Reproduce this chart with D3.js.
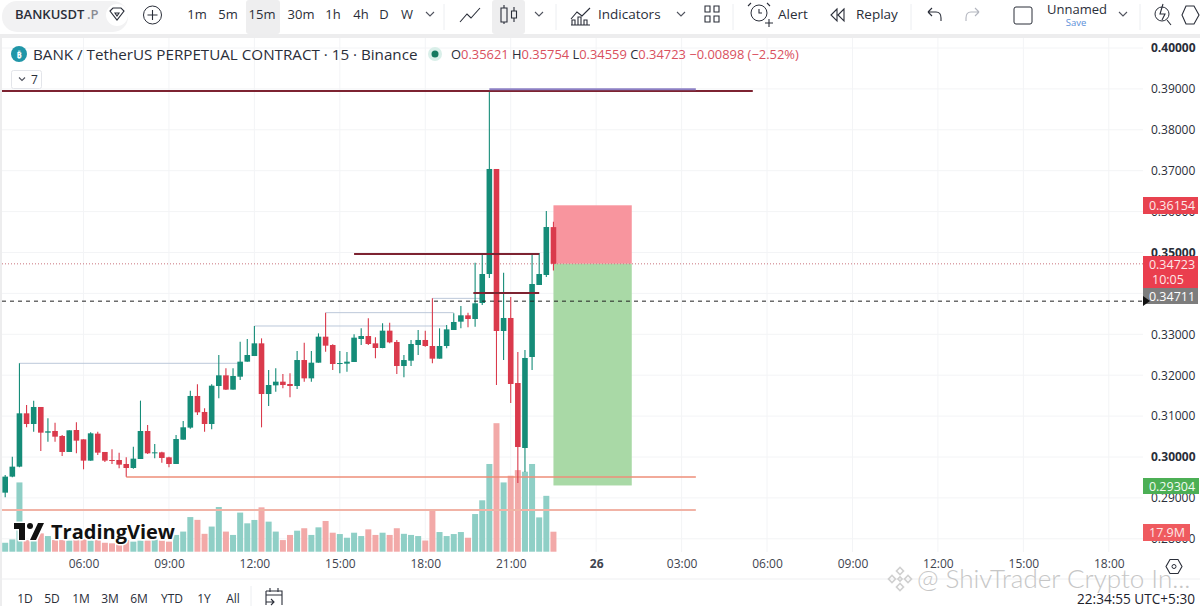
<!DOCTYPE html>
<html>
<head>
<meta charset="utf-8">
<style>
    html, body { margin: 0; padding: 0; background: #fff; }
    svg { display: block; }
    text { font-family: "Open Sans", "Noto Sans", sans-serif; fill: #2a2e39; }
</style>
<script src="https://cdn.jsdelivr.net/npm/d3@7"></script>
</head>
<body>
<div id="chart"></div>
<script>
const WIDTH  = 1200
const HEIGHT = 606

// one candle every 15 minutes, first one at 03:15 on the 25th
const opens = [
    .29128, .29520, .29764, .31068, .30807, .31223, .30595, .30636, .30514, .30123,
    .30660, .30432, .29911, .30571, .30123, .29927, .29927, .29829, .29731, .29951,
    .30636, .30098, .30114, .29992, .29829, .30424, .30718, .31492, .31101, .30807,
    .31736, .31997, .31647, .31964, .32331, .32469, .32779, .31540, .31752, .31842,
    .31785, .31736, .32371, .31923, .32306, .32942, .32738, .32282, .32282, .32323,
    .32885, .32958, .32779, .32665, .33089, .32812, .32225, .32355, .32738, .32861,
    .32714, .32404, .32714, .33105, .33309, .33464, .33374, .33765, .34474, .37042,
    .33081, .33399, .31809, .30220, .32445, .34206, .34450, .35621
]
const highs = [
    .29560, .30008, .32291, .31272, .31378, .31223, .30946, .30840, .30538, .30652,
    .30848, .30432, .30603, .30620, .30123, .30188, .30106, .29992, .30253, .31378,
    .30783, .30318, .30131, .30008, .30538, .30881, .31622, .31777, .31190, .31777,
    .32494, .32168, .32168, .32820, .32885, .33203, .32901, .32127, .32168, .32029,
    .32045, .32592, .32795, .32592, .33023, .33529, .32755, .32592, .32567, .32999,
    .33146, .33390, .32926, .33268, .33284, .32861, .32494, .32861, .33105, .33089,
    .33879, .33146, .33227, .33513, .33692, .33529, .34751, .34939, .38973, .37042,
    .34506, .33912, .32567, .32616, .34988, .34988, .36015, .35754
]
const lows = [
    .29014, .29503, .29750, .30726, .30620, .30147, .30375, .30375, .30025, .30123,
    .30090, .29699, .29911, .30049, .29878, .29829, .29723, .29520, .29715, .29951,
    .30074, .29968, .29862, .29748, .29829, .30424, .30693, .31027, .30620, .30677,
    .31435, .31639, .31647, .31883, .32331, .32469, .30725, .31247, .31597, .31679,
    .31459, .31662, .31842, .31842, .32306, .32575, .32127, .32045, .32086, .32323,
    .32738, .32738, .32412, .32657, .32779, .32029, .31948, .32225, .32494, .32698,
    .32290, .32404, .32657, .33105, .33146, .33170, .33186, .33716, .34377, .31760,
    .32372, .31320, .29364, .29633, .32127, .34206, .34401, .34559
]
const closes = [
    .29520, .29764, .31068, .30807, .31223, .30595, .30628, .30497, .30123, .30652,
    .30400, .29911, .30579, .30106, .29911, .29903, .29813, .29731, .29960, .30636,
    .30090, .30114, .29976, .29829, .30440, .30726, .31492, .31092, .30807, .31744,
    .31997, .31647, .31981, .32331, .32494, .32779, .31540, .31760, .31842, .31760,
    .31736, .32371, .31923, .32306, .32942, .32722, .32274, .32298, .32331, .32918,
    .32958, .32763, .32665, .33089, .32803, .32225, .32371, .32763, .32861, .32714,
    .32404, .32714, .33121, .33301, .33464, .33374, .33757, .34474, .37042, .33081,
    .33399, .31785, .30244, .32421, .34230, .34474, .35623, .34723
]
// millions
const volumes = [
    8, 11, 62, 10.4, 10.4, 16.4, 14, 10.4, 10.4, 9.9,
    10.4, 11, 9.9, 10.4, 8, 7.5, 6.9, 10.4, 9, 9.9,
    9.9, 11, 9.9, 9, 15, 18, 31, 28.5, 16, 22.5,
    40, 18, 15, 35, 25.4, 28.4, 39.7, 26.9, 18, 10.4,
    15, 18.8, 21, 15, 21.8, 27.5, 17, 15.8, 12.5, 17,
    14, 20, 15, 17, 15, 21, 16, 15, 14, 10,
    38, 17.6, 14, 15.8, 17.6, 12.5, 33.7, 46, 78.5, 115,
    62, 68, 73, 71.6, 78.5, 30.7, 50, 17.9
]

const priceTicks = [.40, .39, .38, .37, .36, .35, .34, .33, .32, .31, .30, .29, .28]
const strongTicks = [.40, .35, .30]

// [price, first bar, last bar]
const priorHighs = [[.32291, 2, 33], [.33203, 35, 62], [.33529, 45, 63], [.33879, 60, 67]]
const darkLevels = [[.38949, -0.45, 105], [.34963, 49, 75], [.34010, 65.75, 75]]
const purpleLevels = [[.38990, 68, 97]]
const orangeLevels = [[.29511, 17, 97]]
const paleLevels = [[.28704, -0.45, 97]]

const shortBox = { stop: .36154, entry: .34723, target: .29304, fromBar: 77, toBar: 88 }
const lastPrice = .34723
const markLevel = .33810

const intervals = ['1m', '5m', '15m', '30m', '1h', '4h', 'D', 'W']
const ranges = ['1D', '5D', '1M', '3M', '6M', 'YTD', '1Y', 'All']

const GREEN       = '#158c78'
const RED         = '#da3a4c'
const GREEN_VOL   = '#8fcfc6'
const RED_VOL     = '#f2a9a8'
const GRID        = '#f3f4f6'

const BAR_MS = 15 * 60 * 1000
const T0     = Date.UTC(2025, 4, 25, 3, 15)
const barTime = i => new Date(T0 + i * BAR_MS)

const x = d3.scaleUtc()
    .domain([barTime(0), barTime(155)])
    .range([5.2, 1108.8])

const xBar = i => x(barTime(i))

const y = d3.scaleLinear()
    .domain([.28, .40])
    .range([538.8, 48])

// 17.9M is 20px tall in the picture
const yVol = d3.scaleLinear()
    .domain([0, 115])
    .range([551.7, 423.2])

const timeTicks = d3.range(0, 13).map(i => new Date(Date.UTC(2025, 4, 25, 6 + i * 3)))

const svg = d3.select('#chart').append('svg')
    .attr('width', WIDTH)
    .attr('height', HEIGHT)

svg.append('rect')
    .attr('width', WIDTH)
    .attr('height', HEIGHT)
    .attr('fill', '#fff')

// ---- grid
const grid = svg.append('g')

grid.selectAll('line.h')
    .data(priceTicks)
    .join('line')
    .attr('x1', 2)
    .attr('x2', 1143)
    .attr('y1', d => y(d))
    .attr('y2', d => y(d))
    .attr('stroke', GRID)

grid.selectAll('line.v')
    .data(timeTicks)
    .join('line')
    .attr('class', 'v')
    .attr('x1', d => x(d))
    .attr('x2', d => x(d))
    .attr('y1', 38)
    .attr('y2', 552)
    .attr('stroke', GRID)

// ---- volume
const bars = d3.range(opens.length)

svg.append('g').selectAll('rect')
    .data(bars)
    .join('rect')
    .attr('x', i => xBar(i) - 3)
    .attr('width', 6)
    .attr('y', i => yVol(volumes[i]))
    .attr('height', i => yVol(0) - yVol(volumes[i]))
    .attr('fill', i => closes[i] >= opens[i] ? GREEN_VOL : RED_VOL)

// ---- short position box
const box = svg.append('g')

box.append('rect')
    .attr('x', xBar(shortBox.fromBar))
    .attr('width', xBar(shortBox.toBar) - xBar(shortBox.fromBar))
    .attr('y', y(shortBox.stop))
    .attr('height', y(shortBox.entry) - y(shortBox.stop))
    .attr('fill', '#f8959e')

box.append('rect')
    .attr('x', xBar(shortBox.fromBar))
    .attr('width', xBar(shortBox.toBar) - xBar(shortBox.fromBar))
    .attr('y', y(shortBox.entry))
    .attr('height', y(shortBox.target) - y(shortBox.entry))
    .attr('fill', '#a9d9a6')

// ---- horizontal drawings
const drawLevels = (levels, color, width) => svg.append('g').selectAll('line')
    .data(levels)
    .join('line')
    .attr('x1', d => xBar(d[1]))
    .attr('x2', d => xBar(d[2]))
    .attr('y1', d => y(d[0]))
    .attr('y2', d => y(d[0]))
    .attr('stroke', color)
    .attr('stroke-width', width)

drawLevels(priorHighs, '#bcc8da', 1)
drawLevels(paleLevels, '#f1b3a6', 2)
drawLevels(orangeLevels, '#ee8e78', 1.5)

svg.append('line')
    .attr('x1', 2)
    .attr('x2', 1143)
    .attr('y1', y(lastPrice))
    .attr('y2', y(lastPrice))
    .attr('stroke', '#c9737c')
    .attr('stroke-dasharray', '1 2')

// ---- candles
const candles = svg.append('g')

candles.selectAll('line')
    .data(bars)
    .join('line')
    .attr('x1', i => xBar(i))
    .attr('x2', i => xBar(i))
    .attr('y1', i => y(highs[i]))
    .attr('y2', i => y(lows[i]))
    .attr('stroke', i => closes[i] >= opens[i] ? GREEN : RED)
    .attr('stroke-width', 1.1)

candles.selectAll('rect')
    .data(bars)
    .join('rect')
    .attr('x', i => xBar(i) - 2.8)
    .attr('width', 5.6)
    .attr('y', i => y(Math.max(opens[i], closes[i])))
    .attr('height', i => Math.max(1, Math.abs(y(opens[i]) - y(closes[i]))))
    .attr('fill', i => closes[i] >= opens[i] ? GREEN : RED)

drawLevels(darkLevels, '#7d2331', 2)
drawLevels(purpleLevels, '#8d80c4', 2)

svg.append('line')
    .attr('x1', 2)
    .attr('x2', 1143)
    .attr('y1', y(markLevel))
    .attr('y2', y(markLevel))
    .attr('stroke', '#222')
    .attr('stroke-dasharray', '4 4')

// ---- axes
const yAxis = svg.append('g')
    .attr('transform', 'translate(1151,0)')
    .call(d3.axisRight(y).tickValues(priceTicks).tickFormat(d3.format('.5f')).tickSize(0).tickPadding(0))

yAxis.select('.domain').remove()
yAxis.selectAll('text')
    .attr('font-size', 12)
    .attr('font-family', '"Open Sans", sans-serif')
    .attr('font-weight', d => strongTicks.includes(d) ? 700 : 400)
    .style('fill', '#2a2e39')

const dayFormat = d3.utcFormat('%H:%M')

const xAxis = svg.append('g')
    .attr('transform', 'translate(0,559)')
    .call(d3.axisBottom(x)
        .tickValues(timeTicks)
        .tickFormat(d => d.getUTCHours() === 0 ? String(d.getUTCDate()) : dayFormat(d))
        .tickSize(0)
        .tickPadding(0))

xAxis.select('.domain').remove()
xAxis.selectAll('text')
    .attr('font-size', 12)
    .attr('font-family', '"Open Sans", sans-serif')
    .attr('font-weight', d => d.getUTCHours() === 0 ? 700 : 400)
    .style('fill', '#40444f')

// ---- helpers for text and icons
const label = (px, py, str, size, opts = {}) => svg.append('text')
    .attr('x', px)
    .attr('y', py)
    .attr('dominant-baseline', 'central')
    .attr('text-anchor', opts.anchor || 'start')
    .attr('font-size', size)
    .attr('font-weight', opts.weight || 400)
    .style('fill', opts.color || '#2a2e39')
    .text(str)

const icon = (px, py, d, color = '#2a2e39', width = 1.1) => svg.append('path')
    .attr('transform', `translate(${px},${py})`)
    .attr('d', d)
    .attr('fill', 'none')
    .attr('stroke', color)
    .attr('stroke-width', width)

const chevron = px => icon(px, 14, 'M-4,-2 L0,2 L4,-2', '#50535e')
const separator = (px, y1, y2) => svg.append('line')
    .attr('x1', px).attr('x2', px).attr('y1', y1).attr('y2', y2).attr('stroke', '#eceef1')

// ---- price tags
const tag = (x0, x1, y0, y1, color) => svg.append('rect')
    .attr('x', x0)
    .attr('width', x1 - x0)
    .attr('y', y0)
    .attr('height', y1 - y0)
    .attr('fill', color)

tag(1143, 1198, 197, 214, '#e8424f')
label(1172, 205.5, '0.36154', 12.5, { anchor: 'middle', color: '#fde8e8' })

tag(1143, 1198, 256, 288, '#ea3e4e')
label(1172, 264.5, '0.34723', 12.5, { anchor: 'middle', color: '#fde8e8' })
label(1152, 279, '10:05', 12.5, { color: '#fde8e8' })

tag(1143, 1198, 288, 304, '#7d7d7d')
label(1172, 296, '0.34711', 12.5, { anchor: 'middle', color: '#fff' })
svg.append('path')
    .attr('d', d3.line()([[1143, 296], [1150, 301], [1143, 306]]))
    .attr('fill', '#111')

tag(1143, 1199, 478, 494, '#4caf55')
label(1172, 486, '0.29304', 12.5, { anchor: 'middle', color: '#f0fbf0' })

tag(1143, 1190, 524, 541, '#ef5a5f')
label(1167, 532.5, '17.9M', 12.5, { anchor: 'middle', color: '#fde8e8' })

// ---- top toolbar
svg.append('rect').attr('x', 0).attr('y', 34).attr('width', WIDTH).attr('height', 4).attr('fill', '#ededee')
svg.append('rect').attr('x', 0).attr('y', 38).attr('width', 2).attr('height', HEIGHT - 38).attr('fill', '#ededee')

svg.append('rect').attr('x', 2).attr('y', 1).attr('width', 126).attr('height', 31).attr('rx', 15).attr('fill', '#f2f2f3')
label(15, 14, 'BANKUSDT', 13, { weight: 600 })
label(87, 14, '.P', 13, { weight: 600, color: '#8a8c93' })
svg.append('circle').attr('cx', 117).attr('cy', 15).attr('r', 11).attr('fill', '#fff')
icon(117, 15, 'M-7,-4 L-4,-7 H4 L7,-4 L0,5 Z M-2,-2 H2 L0,1 Z')
svg.append('circle').attr('cx', 152.5).attr('cy', 15).attr('r', 9).attr('fill', 'none').attr('stroke', '#2a2e39')
icon(152.5, 15, 'M-5,0 H5 M0,-5 V5')

svg.append('rect').attr('x', 246).attr('y', 0).attr('width', 34).attr('height', 34).attr('rx', 3).attr('fill', '#eeeeef')
svg.append('rect').attr('x', 492).attr('y', 0).attr('width', 33).attr('height', 34).attr('rx', 3).attr('fill', '#eeeeef')

const intervalX = [197, 228, 262, 301, 333, 361, 384, 407]
intervals.forEach((d, i) => label(intervalX[i], 14, d, 13, { anchor: 'middle' }))
chevron(430)
separator(444, 4, 30)
icon(470, 15, 'M-10,7 L-3,-1 L1,3 L10,-7')
icon(504, 14, 'M0,-9 V-6 M-3,-6 H3 V8 H-3 Z M0,8 V10')
icon(514, 14, 'M0,-7 V-3 M-2.5,-3 H2.5 V4 H-2.5 Z M0,4 V8', '#2a2e39')
chevron(539)
separator(556, 4, 30)
icon(581, 16, 'M-10,3 L-4,-4 L1,0 L9,-8 M-9,9 V4 H-6 V9 M-3,9 V1 H0 V9 M3,9 V4 H6 V9 M-10,9 H9')
label(598, 14, 'Indicators', 13.5)
chevron(681)
icon(712, 14, 'M-7,-8 H-2 V-2 H-7 Z M2,-8 H7 V-2 H2 Z M-7,2 H-2 V8 H-7 Z M2,2 H7 V8 H2 Z')
separator(733, 4, 30)
svg.append('circle').attr('cx', 759).attr('cy', 13).attr('r', 8).attr('fill', 'none').attr('stroke', '#2a2e39')
icon(759, 13, 'M0,-4 V0 H3 M-8,-10 L-11,-7 M8,-10 L11,-7 M6,10 H14 M10,6 V14')
label(778, 14, 'Alert', 13.5)
icon(838, 15, 'M-1,-6 L-7,0 L-1,6 Z M6,-6 L0,0 L6,6 Z')
label(856, 14, 'Replay', 13.5)
separator(911, 4, 30)
icon(934, 15, 'M-6,-3 L-2,-7 M-6,-3 L-2,1 M-6,-3 H2 Q7,-3 7,3 V6')
icon(973, 15, 'M6,-3 L2,-7 M6,-3 L2,1 M6,-3 H-2 Q-7,-3 -7,3 V6', '#b2b5be')
svg.append('rect').attr('x', 1014).attr('y', 7).attr('width', 18).attr('height', 17).attr('rx', 2).attr('fill', 'none').attr('stroke', '#2a2e39')
label(1047, 9, 'Unnamed', 13)
label(1076, 22, 'Save', 9.5, { anchor: 'middle', color: '#5b8fd9' })
chevron(1123)
separator(1140, 4, 30)
svg.append('circle').attr('cx', 1162).attr('cy', 14).attr('r', 7).attr('fill', 'none').attr('stroke', '#2a2e39')
icon(1162, 14, 'M1,-10 L-2,0 H3 L0,6 M5,6 L9,11')
icon(1191, 15, 'M-5,-9 H3 L8,0 L3,9 H-5 L-9,0 Z')

// ---- legend
svg.append('circle').attr('cx', 19).attr('cy', 54).attr('r', 8).attr('fill', '#2196a8')
label(19, 54, '₿', 9, { anchor: 'middle', color: '#fff', weight: 700 })
label(33, 54, 'BANK / TetherUS PERPETUAL CONTRACT · 15 · Binance', 15.2)

svg.append('circle').attr('cx', 435).attr('cy', 54).attr('r', 7).attr('fill', '#d9efe9')
svg.append('circle').attr('cx', 435).attr('cy', 54).attr('r', 3.5).attr('fill', '#15795f')

const ohlc = svg.append('text')
    .attr('x', 451)
    .attr('y', 54)
    .attr('dominant-baseline', 'central')
    .attr('font-size', 12.9)

const legendParts = [['O', '0.35621 '], ['H', '0.35754 '], ['L', '0.34559 '], ['C', '0.34723 −0.00898 (−2.52%)']]
legendParts.forEach(d => {
    ohlc.append('tspan').text(d[0])
    ohlc.append('tspan').style('fill', '#d9505e').text(d[1])
})

svg.append('rect').attr('x', 11.5).attr('y', 70.5).attr('width', 30).attr('height', 18).attr('rx', 2)
    .attr('fill', '#fff').attr('stroke', '#e3e5ea')
icon(22, 79, 'M-3,-1.5 L0,1.5 L3,-1.5', '#50535e')
label(31, 79, '7', 12)

// ---- TradingView mark
const halo = sel => sel.style('paint-order', 'stroke').attr('stroke', '#fff').attr('stroke-width', 3).attr('stroke-linejoin', 'round')

svg.append('path')
    .attr('d', 'M14,523 H25 V540 H19 V529 H14 Z M38,523 H44 L36,540 H30 Z')
    .attr('fill', '#111')
    .call(halo)
svg.append('circle').attr('cx', 30).attr('cy', 526).attr('r', 3).attr('fill', '#111')

label(51, 531, 'TradingView', 20, { weight: 700, color: '#111' }).call(halo)

// ---- bottom bar
svg.append('line').attr('x1', 0).attr('x2', WIDTH).attr('y1', 579).attr('y2', 579).attr('stroke', '#eeeff1')
separator(251, 586, 606)

const rangeX = [25, 52, 81, 110, 139, 172, 204, 233]
ranges.forEach((d, i) => label(rangeX[i], 598, d, 12, { anchor: 'middle' }))

icon(274, 597, 'M-8,-6 H8 V8 M-8,8 V-6 M-8,-2 H8 M-4,-9 V-5 M4,-9 V-5 M-8,5 H0 M-3,2 L0,5 L-3,8')

icon(1174, 566.5, 'M-4,-7 H4 L8,0 L4,7 H-4 L-8,0 Z')
svg.append('circle').attr('cx', 1174).attr('cy', 566.5).attr('r', 2).attr('fill', 'none').attr('stroke', '#2a2e39')

label(1195, 598, '22:34:55 UTC+5:30', 13.6, { anchor: 'end', color: '#1e222d' })

// ---- repost watermark
const mark = svg.append('g')
    .attr('transform', 'translate(900,579)')
    .attr('fill', 'none')
    .attr('stroke', '#d0d0d0')
    .attr('stroke-width', 1.6)

const diamonds = [[0, -8, 5], [-8, 0, 5], [8, 0, 5], [0, 8, 5], [0, 0, 3]]
mark.selectAll('rect')
    .data(diamonds)
    .join('rect')
    .attr('x', d => d[0] - d[2] / 2)
    .attr('y', d => d[1] - d[2] / 2)
    .attr('width', d => d[2])
    .attr('height', d => d[2])
    .attr('transform', d => `rotate(45,${d[0]},${d[1]})`)

svg.append('text')
    .attr('x', 917)
    .attr('y', 578)
    .attr('dominant-baseline', 'central')
    .attr('font-size', 26)
    .attr('font-weight', 300)
    .style('fill', '#c6c6c6')
    .style('font-family', 'Lato, sans-serif')
    .text('@ ShivTrader Crypto In...')
</script>
</body>
</html>
